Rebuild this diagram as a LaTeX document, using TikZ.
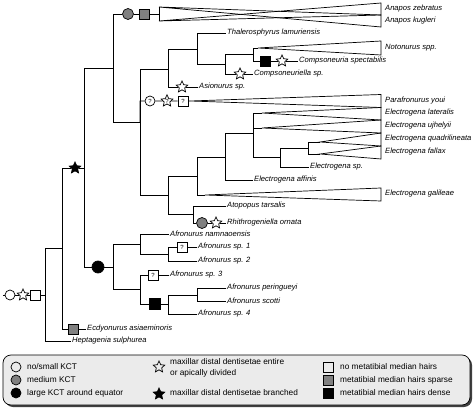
\documentclass[tikz,border=0pt]{standalone}
\usepackage{fontspec}
\setmainfont{Liberation Sans}
\usetikzlibrary{shapes.geometric}

\definecolor{medgrey}{gray}{0.5}
\definecolor{boxgrey}{gray}{0.92}

\tikzset{
  br/.style={line width=0.7pt},
  taxon/.style={anchor=west, inner sep=1pt, font=\fontsize{7.6}{9}\selectfont\itshape},
  keytext/.style={anchor=west, inner sep=0pt, font=\fontsize{8.3}{11}\selectfont, align=left},
  kct/.style={circle, draw, line width=0.7pt, minimum size=10, inner sep=0pt},
  hairs/.style={rectangle, draw, line width=0.7pt, minimum size=10, inner sep=0pt},
  denti/.style={star, star points=5, star point ratio=2.1, draw, line width=0.7pt, minimum size=12, inner sep=0pt},
  qmark/.style={font=\fontsize{6}{6}\selectfont},
}

\begin{document}
\begin{tikzpicture}[x=1pt, y=-1pt]
\useasboundingbox (0,0) rectangle (474,409);

% internal nodes
\coordinate (base) at (3,295);
\coordinate (root) at (45,295);
\coordinate (n62) at (62,248);
\coordinate (n84) at (84,168);
\coordinate (n113a) at (113,68);
\coordinate (n140a) at (140,122);
\coordinate (n168a) at (168,69);
\coordinate (n197a) at (197,49);
\coordinate (n225a) at (225,64);
\coordinate (n253a) at (253,54);
\coordinate (n168b) at (168,195);
\coordinate (n197b) at (197,176);
\coordinate (n225b) at (225,157);
\coordinate (n253b) at (253,133);
\coordinate (n280) at (280,157);
\coordinate (n308) at (308,148);
\coordinate (n193) at (193,214);
\coordinate (n113b) at (113,267);
\coordinate (n140b) at (140,244);
\coordinate (n168c) at (168,254);
\coordinate (n140c) at (140,289);
\coordinate (n168d) at (168,304);
\coordinate (n197c) at (197,295);

% character states on branches
\node[kct] (rC) at (10,295) {};
\node[denti] (rS) at (23,295) {};
\node[hairs] (rQ) at (35,295) {};
\node[denti, fill=black] (bS) at (75,168) {};
\node[kct, fill=black, minimum size=12] (bC) at (98,267) {};
\node[hairs, fill=medgrey] (eQ) at (73,329) {};
\node[kct, fill=medgrey, minimum size=11] (aC) at (128,14) {};
\node[hairs, fill=medgrey] (aQ) at (144,14) {};
\node[hairs, fill=black] (cQ) at (265,61) {};
\node[denti] (cS) at (282,61) {};
\node[denti] (ceS) at (240,74) {};
\node[denti] (asS) at (182,87) {};
\node[kct, qmark] (pC) at (150,101) {?};
\node[denti, qmark] (pS) at (167,101) {?};
\node[hairs, qmark] (pQ) at (183,101) {?};
\node[kct, fill=medgrey, minimum size=11] (oC) at (202,223) {};
\node[denti] (oS) at (216,223) {};
\node[hairs, qmark] (s1Q) at (182,247) {?};
\node[hairs, qmark] (s3Q) at (153,275) {?};
\node[hairs, fill=black, minimum size=11] (dQ) at (155,304) {};

% taxa
\node[taxon] (zeb) at (384,9) {Anapos zebratus};
\node[taxon] (kug) at (384,21) {Anapos kugleri};
\node[taxon] (thal) at (226,33) {Thalerosphyrus lamuriensis};
\node[taxon] (noto) at (384,48) {Notonurus spp.};
\node[taxon] (comp) at (298,61) {Compsoneuria spectabilis};
\node[taxon] (cella) at (253,74) {Compsoneuriella sp.};
\node[taxon] (asio) at (198,87) {Asionurus sp.};
\node[taxon] (para) at (384,101) {Parafronurus youi};
\node[taxon] (elat) at (384,113) {Electrogena lateralis};
\node[taxon] (euj) at (384,126) {Electrogena ujhelyii};
\node[taxon] (equ) at (384,139) {Electrogena quadrilineata};
\node[taxon] (efa) at (384,152) {Electrogena fallax};
\node[taxon] (esp) at (309,167) {Electrogena sp.};
\node[taxon] (eaf) at (253,180) {Electrogena affinis};
\node[taxon] (ega) at (384,194) {Electrogena galileae};
\node[taxon] (atop) at (226,206) {Atopopus tarsalis};
\node[taxon] (rhit) at (226,223) {Rhithrogeniella ornata};
\node[taxon] (nam) at (169,234) {Afronurus namnaoensis};
\node[taxon] (af1) at (197,247) {Afronurus sp. 1};
\node[taxon] (af2) at (197,261) {Afronurus sp. 2};
\node[taxon] (af3) at (169,275) {Afronurus sp. 3};
\node[taxon] (per) at (226,288) {Afronurus peringueyi};
\node[taxon] (sco) at (226,301) {Afronurus scotti};
\node[taxon] (af4) at (197,314) {Afronurus sp. 4};
\node[taxon] (ecd) at (86,329) {Ecdyonurus asiaeminoris};
\node[taxon] (hep) at (71,341) {Heptagenia sulphurea};

% branches
\draw[br] (base) -- (rC) -- (rS) -- (rQ) -- (root);
\draw[br] (root) |- (hep);
\draw[br] (root) |- (n62);
\draw[br] (n62) |- (eQ) -- (ecd);
\draw[br] (n62) |- (bS) -- (n84);
\draw[br] (n84) |- (n113a);
\draw[br] (n84) |- (bC) -- (n113b);
\draw[br] (n113a) |- (aC) -- (aQ) -- (159,14);
\draw[br] (n113a) |- (n140a);
\draw[br] (n140a) |- (n168a);
\draw[br] (n168a) |- (n197a);
\draw[br] (n168a) |- (asS) -- (asio);
\draw[br] (n197a) |- (thal);
\draw[br] (n197a) |- (n225a);
\draw[br] (n225a) |- (n253a);
\draw[br] (n225a) |- (ceS) -- (cella);
\draw[br] (n253a) |- (cQ) -- (cS) -- (comp);
\draw[br] (n253a) |- (258,48);
\draw[br] (n140a) |- (pC) -- (pS) -- (pQ) -- (190,101);
\draw[br] (n140a) |- (n168b);
\draw[br] (n168b) |- (n197b);
\draw[br] (n197b) |- (205,195);
\draw[br] (n197b) |- (n225b);
\draw[br] (n225b) |- (eaf);
\draw[br] (n225b) |- (n253b);
\draw[br] (n253b) |- (262,113);
\draw[br] (n253b) |- (262,128);
\draw[br] (n253b) |- (n280);
\draw[br] (n280) |- (n308);
\draw[br] (n280) |- (esp);
\draw[br] (n308) |- (320,142);
\draw[br] (n308) |- (320,154);
\draw[br] (n168b) |- (n193);
\draw[br] (n193) |- (atop);
\draw[br] (n193) |- (oC) -- (oS) -- (rhit);
\draw[br] (n113b) |- (n140b);
\draw[br] (n113b) |- (n140c);
\draw[br] (n140b) |- (nam);
\draw[br] (n140b) |- (n168c);
\draw[br] (n168c) |- (s1Q) -- (af1);
\draw[br] (n168c) |- (af2);
\draw[br] (n140c) |- (s3Q) -- (af3);
\draw[br] (n140c) |- (dQ) -- (n168d);
\draw[br] (n168d) |- (n197c);
\draw[br] (n168d) |- (af4);
\draw[br] (n197c) |- (per);
\draw[br] (n197c) |- (sco);

% collapsed clades
\draw[br] (159,7) -- (159,21);
\draw[br] (159,21) -- (381,3) -- (381,15) -- cycle;
\draw[br] (159,7) -- (381,15) -- (381,27) -- cycle;
\draw[br] (258,48) -- (381,41) -- (381,55) -- cycle;
\draw[br] (190,101) -- (381,94.5) -- (381,107.5) -- cycle;
\draw[br] (262,113) -- (381,107.5) -- (381,120) -- cycle;
\draw[br] (262,128) -- (381,120) -- (381,133) -- cycle;
\draw[br] (320,142) -- (381,133) -- (381,146) -- cycle;
\draw[br] (320,154) -- (381,146) -- (381,159) -- cycle;
\draw[br] (205,195) -- (381,188) -- (381,201) -- cycle;

% key
\fill[black!75, rounded corners=8] (5,357) rectangle (472,407);
\draw[br, fill=boxgrey, rounded corners=8] (3,355) rectangle (470,405);
\node[kct] (k1) at (16,367) {};
\node[kct, fill=medgrey] (k2) at (16,380) {};
\node[kct, fill=black] (k3) at (16,393) {};
\node[keytext] (t1) at (27,367) {no/small KCT};
\node[keytext] (t2) at (27,380) {medium KCT};
\node[keytext] (t3) at (27,393) {large KCT around equator};
\node[denti] (k4) at (159,367) {};
\node[denti, fill=black] (k5) at (159,394) {};
\node[keytext] (t4) at (170,368) {maxillar distal dentisetae entire\\or apically divided};
\node[keytext] (t5) at (170,393) {maxillar distal dentisetae branched};
\node[hairs] (k6) at (328,367) {};
\node[hairs, fill=medgrey] (k7) at (328,380) {};
\node[hairs, fill=black] (k8) at (328,393) {};
\node[keytext] (t6) at (340,367) {no metatibial median hairs};
\node[keytext] (t7) at (340,380) {metatibial median hairs sparse};
\node[keytext] (t8) at (340,393) {metatibial median hairs dense};
\end{tikzpicture}
\end{document}
